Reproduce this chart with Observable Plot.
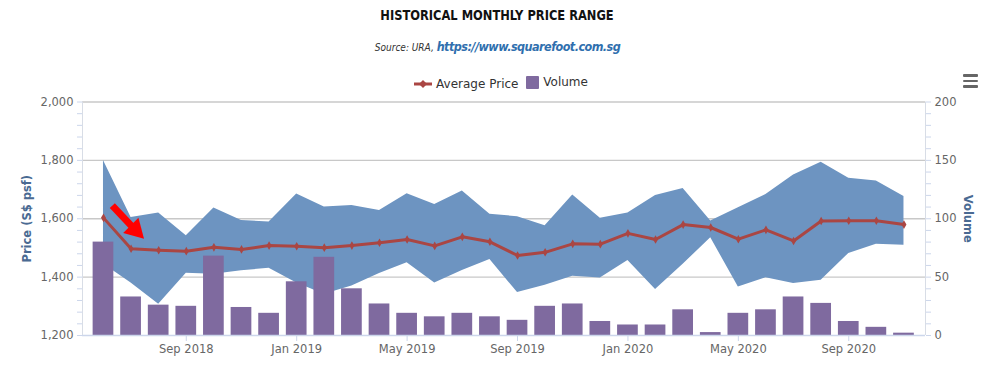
<!DOCTYPE html>
<html>
<head>
<meta charset="utf-8">
<script src="https://cdn.jsdelivr.net/npm/d3@7"></script>
<script src="https://cdn.jsdelivr.net/npm/@observablehq/plot@0.6"></script>
<style>
  body { margin: 0; background: #fff; }
  #wrap { width: 1000px; height: 370px; position: relative; overflow: hidden; background: #fff; }
  #header { position: relative; width: 1000px; height: 90px; }
  .title { position: absolute; top: 7px; left: 0; width: 994px; text-align: center; line-height: 16px;
    font-family: "Liberation Sans Narrow", "DejaVu Sans Condensed", "Liberation Sans", sans-serif; font-stretch: condensed;
    font-weight: bold; font-size: 14px; color: #111; transform: scaleX(0.91); transform-origin: 497px 50%; }
  .subtitle { position: absolute; top: 38px; left: 0; width: 995px; text-align: center; line-height: 16px;
    font-family: "Liberation Sans Narrow", "DejaVu Sans Condensed", "Liberation Sans", sans-serif; font-stretch: condensed; font-style: italic; }
  .subtitle .src { font-size: 10px; color: #333; }
  .subtitle .link { font-size: 12.5px; font-weight: bold; color: #2f6fae; letter-spacing: -0.55px; }
  .legend { position: absolute; top: 74px; left: 0; width: 1002px; text-align: center; line-height: 16px;
    font-family: "DejaVu Sans", sans-serif; font-size: 12px; color: #333; }
  .legend span.item { display: inline-flex; align-items: center; margin: 0 2px; }
  .legend svg { margin-right: 4px; }
  .menu { position: absolute; left: 963px; top: 74px; width: 15px; }
  .menu div { height: 2.5px; background: #666; margin-bottom: 3px; border-radius: 1px; }
</style>
</head>
<body>
<div id="wrap">
  <div id="header">
    <div class="title">HISTORICAL MONTHLY PRICE RANGE</div>
    <div class="subtitle"><span class="src">Source: URA, </span><span class="link">https://www.squarefoot.com.sg</span></div>
    <div class="legend">
      <span class="item"><svg width="18" height="10"><line x1="0" y1="5" x2="18" y2="5" stroke="#aa4643" stroke-width="3"/><path d="M9 1 L13 5 L9 9 L5 5 Z" fill="#aa4643"/></svg>Average Price</span>
      <span class="item"><svg width="13" height="13"><rect x="0" y="0" width="13" height="13" rx="1" fill="#7f6a9f"/></svg>Volume</span>
    </div>
    <div class="menu"><div></div><div></div><div></div></div>
  </div>
  <div id="chart"></div>
</div>
<script>
const months = ["Jun 2018","Jul 2018","Aug 2018","Sep 2018","Oct 2018","Nov 2018","Dec 2018",
  "Jan 2019","Feb 2019","Mar 2019","Apr 2019","May 2019","Jun 2019","Jul 2019","Aug 2019","Sep 2019","Oct 2019","Nov 2019","Dec 2019",
  "Jan 2020","Feb 2020","Mar 2020","Apr 2020","May 2020","Jun 2020","Jul 2020","Aug 2020","Sep 2020","Oct 2020","Nov 2020"];
const highPrice = [1800,1604,1620,1542,1637,1594,1589, 1685,1640,1645,1628,1686,1649,1695,1615,1607,1576,1681,1602, 1620,1680,1704,1592,1638,1683,1750,1794,1739,1729,1676];
const lowPrice  = [1445,1380,1307,1413,1410,1422,1430, 1380,1341,1370,1412,1449,1380,1423,1460,1347,1372,1403,1397, 1457,1358,1444,1535,1366,1398,1378,1389,1481,1513,1509];
const avgPrice  = [1603,1497,1492,1489,1502,1495,1508, 1506,1501,1508,1518,1529,1507,1538,1521,1474,1485,1514,1513, 1550,1529,1580,1570,1530,1562,1524,1592,1593,1593,1580];
const volume    = [80,33,26,25,68,24,19, 46,67,40,27,19,16,19,16,13,25,27,12, 9,9,22,2.5,19,22,33,27.5,12,7,2];
const xTickLabels = ["Sep 2018","Jan 2019","May 2019","Sep 2019","Jan 2020","May 2020","Sep 2020"];
const priceTicks = [1200,1400,1600,1800,2000];
const volumeTicks = [0,50,100,150,200];
const arrowNote = [{i0: 0.32, p0: 1645, i1: 1.15, p1: 1562}];

const priceDomain = [1200, 2000];
const volumeDomain = [0, 200];
const xDomain = [-0.76, 29.78];
const volToPrice = v => priceDomain[0] + (v - volumeDomain[0]) * (priceDomain[1] - priceDomain[0]) / (volumeDomain[1] - volumeDomain[0]);

const data = months.map((m, i) => ({i, month: m, high: highPrice[i], low: lowPrice[i], avg: avgPrice[i], vol: volume[i]}));
const xTicks = xTickLabels.map(l => months.indexOf(l));
const minorTicks = d3.range(priceDomain[0], priceDomain[1] + 1, 40);

const chart = Plot.plot({
  width: 1000,
  height: 280,
  marginTop: 11.5,
  marginBottom: 35,
  marginLeft: 82,
  marginRight: 75,
  style: {fontFamily: "DejaVu Sans, sans-serif", fontSize: "11px", color: "#666", background: "#fff", overflow: "visible"},
  x: {type: "linear", domain: xDomain, axis: null},
  y: {domain: priceDomain, axis: null},
  marks: [
    Plot.gridY(priceTicks.slice(1), {stroke: "#c8c8c8", strokeOpacity: 1, strokeWidth: 1.3}),
    Plot.areaY(data, {x: "i", y1: "low", y2: "high", fill: "#6d94c1", fillOpacity: 1}),
    Plot.rectY(data, {x1: d => d.i - 0.375, x2: d => d.i + 0.375, y1: priceDomain[0], y2: d => volToPrice(d.vol), fill: "#7f6a9f"}),
    Plot.lineY(data, {x: "i", y: "avg", stroke: "#aa4643", strokeWidth: 3}),
    Plot.dot(data, {x: "i", y: "avg", symbol: "diamond", r: 2.6, fill: "#aa4643"}),
    Plot.link(arrowNote, {x1: "i0", y1: "p0", x2: "i1", y2: "p1", stroke: "#ff0000", strokeWidth: 7, strokeLinecap: "butt"}),
    Plot.dot(arrowNote, {x: "i1", y: "p1", symbol: "triangle", r: 8, fill: "#ff0000", rotate: 135}),
    Plot.ruleY([priceDomain[0]], {stroke: "#ccd6eb", strokeWidth: 1.3}),
    Plot.ruleX([xDomain[0], xDomain[1]], {stroke: "#d8dde6", strokeWidth: 1}),
    Plot.axisY(minorTicks, {anchor: "left", tickSize: 5, tickFormat: () => "", stroke: "#ccd6eb"}),
    Plot.axisY(minorTicks, {anchor: "right", tickSize: 5, tickFormat: () => "", stroke: "#ccd6eb"}),
    Plot.axisY(priceTicks, {anchor: "left", tickSize: 0, tickPadding: 9, tickFormat: d3.format(","), fill: "#666", fontSize: 11.5, label: null}),
    Plot.axisY(volumeTicks.map(volToPrice), {anchor: "right", tickSize: 0, tickPadding: 9, tickFormat: p => String(Math.round((p - priceDomain[0]) * (volumeDomain[1] - volumeDomain[0]) / (priceDomain[1] - priceDomain[0]))), fill: "#666", fontSize: 11.5, label: null}),
    Plot.axisX(xTicks, {anchor: "bottom", tickSize: 6, tickPadding: 3, tickFormat: i => months[i], stroke: "#ccd6eb", fill: "#666", fontSize: 11.5, label: null}),
    Plot.text(["Price (S$ psf)"], {frameAnchor: "left", dx: -55, rotate: -90, textAnchor: "middle", fill: "#4a6a92", fontWeight: "bold", fontSize: 11.5}),
    Plot.text(["Volume"], {frameAnchor: "right", dx: 42, rotate: 90, textAnchor: "middle", fill: "#4a6a92", fontWeight: "bold", fontSize: 11.5})
  ]
});
document.getElementById("chart").appendChild(chart);
</script>
</body>
</html>
